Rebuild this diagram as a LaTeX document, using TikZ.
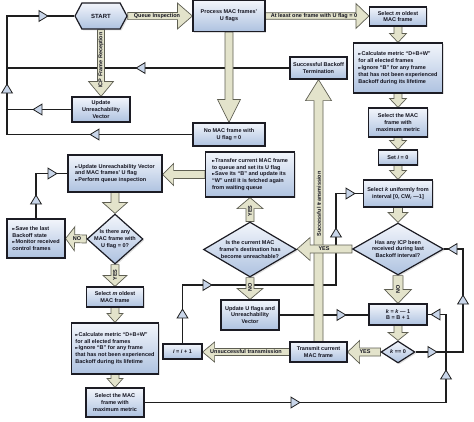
\documentclass[tikz,border=0pt]{standalone}
\usepackage{fontspec}
\setmainfont{Liberation Sans}
\newfontfamily\symf{DejaVu Sans}
\usetikzlibrary{shapes.geometric,shapes.symbols,arrows.meta,decorations.markings,calc,shadows}
\definecolor{boxtop}{HTML}{F2F5FB}
\definecolor{boxbot}{HTML}{AEC2E0}
\definecolor{boxline}{HTML}{1C1C24}
\definecolor{arrfill}{HTML}{E3E3CB}
\definecolor{arrdraw}{HTML}{5E5E52}
\definecolor{tric}{HTML}{C9D6EA}
\definecolor{linec}{HTML}{1E1E1E}
\definecolor{txt}{HTML}{141420}
\newcommand\dgfont{\fontsize{5.5}{6.9}\selectfont\bfseries}
\newcommand\bul{{\symf\fontsize{4.2}{5}\selectfont ►}}
\pgfdeclarelayer{bg}\pgfdeclarelayer{mid}\pgfsetlayers{bg,mid,main}
\tikzset{
 Tri/.tip={Triangle[length=10pt,width=12pt,fill=tric,line width=0.8pt]},
 box/.style={draw=boxline, line width=1.2pt, top color=boxtop, bottom color=boxbot,
   inner sep=1pt, align=center, font=\dgfont, text=txt,
   drop shadow={shadow xshift=1.4pt,shadow yshift=-1.4pt,opacity=0.25}},
 lbox/.style={box, align=left},
 dia/.style={diamond, draw=boxline, line width=1.2pt, top color=boxtop, bottom color=boxbot,
   inner sep=0pt, drop shadow={shadow xshift=1.4pt,shadow yshift=-1.4pt,opacity=0.25}},
 dtext/.style={font=\dgfont, text=txt, align=center, inner sep=0pt},
 hexs/.style={signal, signal to=west and east, signal pointer angle=124, draw=boxline,
   line width=1.2pt, top color=boxtop, bottom color=boxbot, inner sep=0pt,
   minimum width=52pt, minimum height=26pt, font=\fontsize{6}{7}\selectfont\bfseries, text=txt,
   drop shadow={shadow xshift=1.4pt,shadow yshift=-1.4pt,opacity=0.25}},
 ln/.style={draw=linec, line width=1.1pt},
 tris/.style={postaction={decorate,decoration={markings,#1}}},
 arr/.style={fill=arrfill, draw=arrdraw, line width=0.7pt, line join=miter},
 alab/.style={font=\dgfont, text=txt, inner sep=0pt},
 barrow/.style args={#1/#2/#3}{to path={
   let \p1=(\tikztostart), \p2=(\tikztotarget), \n1={atan2(\y2-\y1,\x2-\x1)} in
   ($(\p1)+({\n1+90}:#1pt)$) -- ($(\p2)+({\n1+180}:#3pt)+({\n1+90}:#1pt)$)
   -- ($(\p2)+({\n1+180}:#3pt)+({\n1+90}:#2pt)$) -- (\p2)
   -- ($(\p2)+({\n1+180}:#3pt)+({\n1-90}:#2pt)$) -- ($(\p2)+({\n1+180}:#3pt)+({\n1-90}:#1pt)$)
   -- ($(\p1)+({\n1-90}:#1pt)$) -- cycle}}
}
\begin{document}
\begin{tikzpicture}[x=1pt,y=-1pt]
\useasboundingbox (0,0) rectangle (474,421);
% nodes
\node[hexs] (start) at (101,16) {START};
\node[box, minimum width=72pt, minimum height=31pt] (process) at (229,16) {Process MAC frames'\\U flags};
\node[box, minimum width=57pt, minimum height=19pt] (selm) at (398,16.5) {Select \textit{m} oldest\\MAC frame};
\node[lbox, minimum width=89pt, minimum height=50pt] (calc) at (398,68) {\bul Calculate metric “D+B+W”\\for all elected frames\\\bul Ignore “B” for any frame\\that has not been experienced\\Backoff during its lifetime};
\node[box, minimum width=59pt, minimum height=29pt] (selmax) at (398,122.5) {Select the MAC\\frame with\\maximum metric};
\node[box, minimum width=39pt, minimum height=15pt] (seti) at (398,157.5) {Set \textit{i} = 0};
\node[box, minimum width=69pt, minimum height=27pt] (selk) at (398,193.5) {Select \textit{k} uniformly from\\interval [0, CW\textsubscript{\textit{i}}  —1]};
\node[dia, minimum width=91pt, minimum height=52pt] (icp) at (398,249) {};
\node[dtext] (icpt) at (icp) {Has any ICP been\\received during last\\Backoff interval?};
\node[box, minimum width=58pt, minimum height=21pt] (kbox) at (398,314.5) {\textit{k} = \textit{k} — 1\\B = B + 1};
\node[dia, minimum width=34pt, minimum height=22pt] (kzero) at (398,352) {};
\node[dtext] (kzerot) at (kzero) {\textit{k} == 0};
\node[box, minimum width=57pt, minimum height=20pt] (transmit) at (318.5,352) {Transmit current\\MAC frame};
\node[box, minimum width=57pt, minimum height=22pt] (sbt) at (318.5,68) {Successful Backoff\\Termination};
\node[box, minimum width=39pt, minimum height=15pt] (iinc) at (182.5,351.5) {\textit{i} = \textit{i} + 1};
\node[box, minimum width=58pt, minimum height=30pt] (updu) at (250,315) {Update U flags and\\Unreachability\\Vector};
\node[dia, minimum width=93pt, minimum height=55pt] (unr) at (250,249.5) {};
\node[dtext] (unrt) at (unr) {Is the current MAC\\frame's destination has\\become unreachable?};
\node[lbox, minimum width=89pt, minimum height=45pt] (transfer) at (250,174.5) {\bul Transfer current MAC frame\\to queue and set its U flag\\\bul Save its “B” and update its\\“W” until it is fetched again\\from waiting queue};
\node[lbox, minimum width=94pt, minimum height=37pt] (updmac) at (115,173.5) {\bul Update Unreachability Vector\\and MAC frames' U flag\\\bul Perform queue inspection};
\node[dia, minimum width=56pt, minimum height=50pt] (anyu) at (115,239) {};
\node[dtext] (anyut) at (anyu) {Is there any\\MAC frame with\\U flag = 0?};
\node[lbox, minimum width=58pt, minimum height=39pt] (save) at (36,238.5) {\bul Save the last\\Backoff state\\\bul Monitor received\\control frames};
\node[box, minimum width=57pt, minimum height=20pt] (selm2) at (115,297) {Select \textit{m} oldest\\MAC frame};
\node[lbox, minimum width=87pt, minimum height=51pt] (calc2) at (115,348.5) {\bul Calculate metric “D+B+W”\\for all elected frames\\\bul Ignore “B” for any frame\\that has not been experienced\\Backoff during its lifetime};
\node[box, minimum width=58pt, minimum height=29pt] (selmax2) at (115,402.5) {Select the MAC\\frame with\\maximum metric};
\node[box, minimum width=58pt, minimum height=25pt] (uuv) at (101,109.5) {Update\\Unreachability\\Vector};
\node[box, minimum width=72pt, minimum height=23pt] (nomac) at (229,134.5) {No MAC frame with\\U flag = 0};
% corner coordinates
\coordinate (busb) at (7,134.5);
\coordinate (bust) at (7,16);
\coordinate (r1) at (446,402.5);
\coordinate (r2) at (463,352);
\coordinate (c1) at (182.5,285);
\coordinate (c2) at (336,285);
% connector lines
\begin{pgfonlayer}{bg}
\draw[ln, tris={mark=at position 103pt with {\arrow{Tri}}, mark=at position 236.5pt with {\arrow{Tri}}, mark=at position 345.5pt with {\arrow{Tri}}}]
  (nomac.west) -- (busb) -- (bust) -- (start.west);
\draw[ln, tris={mark=at position 154pt with {\arrow{Tri}}}] (sbt.west) -- (sbt.west -| bust);
\draw[ln, tris={mark=at position 39pt with {\arrow{Tri}}}] (uuv.west) -- (uuv.west -| bust);
\draw[ln, tris={mark=at position 24pt with {\arrow{Tri}}, mark=at position 66.5pt with {\arrow{Tri}}}]
  (save.north) |- (updmac.west);
\draw[ln, tris={mark=at position 156pt with {\arrow{Tri}}, mark=at position 334.5pt with {\arrow{Tri}}, mark=at position 405pt with {\arrow{Tri}}}]
  (selmax2.east) -- (r1) |- (kbox.east);
\draw[ln, tris={mark=at position 22pt with {\arrow{Tri}}, mark=at position 105pt with {\arrow{Tri}}, mark=at position 166pt with {\arrow{Tri}}}]
  (kzero.east) -- (r2) |- (icp.east);
\draw[ln, tris={mark=at position 67pt with {\arrow{Tri}}}] (updu.east) -- (updu.east -| kbox.west);
\draw[ln, tris={mark=at position 35pt with {\arrow{Tri}}, mark=at position 88.5pt with {\arrow{Tri}}, mark=at position 269.5pt with {\arrow{Tri}}, mark=at position 323pt with {\arrow{Tri}}}]
  (iinc.north) -- (c1) -- (c2) |- (selk.west);
\end{pgfonlayer}
% block arrows
\begin{pgfonlayer}{mid}
\draw[arr] (start.east) to[barrow=3.6/13/15] (process.west);
\draw[arr] (process.east) to[barrow=3.3/12.5/13] (process.east -| selm.west);
\draw[arr] (start.south) to[barrow=3.5/12.5/15] (uuv.north);
\draw[arr] (process.south) to[barrow=4/11.5/23] (nomac.north);
\draw[arr] (selm.south) to[barrow=4/8.5/9] (calc.north);
\draw[arr] (calc.south) to[barrow=4/8.5/9] (selmax.north);
\draw[arr] (selmax.south) to[barrow=4/8.5/9] (seti.north);
\draw[arr] (seti.south) to[barrow=4/8.5/9] (selk.north);
\draw[arr] (selk.south) to[barrow=4.5/10/10] (icp.north);
\draw[arr] (icp.south) to[barrow=5/13.5/14] (kbox.north);
\draw[arr] (kbox.south) to[barrow=4/10/8] (kzero.north);
\draw[arr] (kzero.west) to[barrow=4/11.5/12] (transmit.east);
\draw[arr] (transmit.west) to[barrow=3.5/10/12] (transmit.west -| iinc.east);
\draw[arr] (transmit.north) to[barrow=4.5/13/21] (sbt.south);
\draw[arr] (icp.west) to[barrow=4/11.5/13] (icp.west -| unr.east);
\draw[arr] (unr.north) to[barrow=4/13/11] (transfer.south);
\draw[arr] (unr.south) to[barrow=4/13/11] (updu.north);
\draw[arr] (transfer.west) to[barrow=4/11/11] (transfer.west -| updmac.east);
\draw[arr] (updmac.south) to[barrow=4/12.5/11] (anyu.north);
\draw[arr] (anyu.west) to[barrow=4/12/9] (save.east);
\draw[arr] (anyu.south) to[barrow=4/12/11] (selm2.north);
\draw[arr] (selm2.south) to[barrow=4/8/9] (calc2.north);
\draw[arr] (calc2.south) to[barrow=4/8/9] (selmax2.north);
% arrow labels
\node[alab] (lq) at (157,16) {Queue Inspection};
\node[alab] (la) at (314,16) {At least one frame with U flag = 0};
\node[alab, rotate=90] (lr) at (101,60) {ICP Frame Reception};
\node[alab, rotate=90] (ls) at (319,204) {Successful transmission};
\node[alab] (lu) at (246,352) {Unsuccessful transmission};
\node[alab] (ly1) at (324,249) {YES};
\node[alab] (ly2) at (365,352) {YES};
\node[alab, rotate=90] (ly3) at (250,211) {YES};
\node[alab, rotate=90] (ly4) at (115,275) {YES};
\node[alab, rotate=90] (ln1) at (250,287) {NO};
\node[alab, rotate=90] (ln2) at (398,289) {NO};
\node[alab] (ln3) at (77,239) {NO};
\end{pgfonlayer}
\end{tikzpicture}
\end{document}
